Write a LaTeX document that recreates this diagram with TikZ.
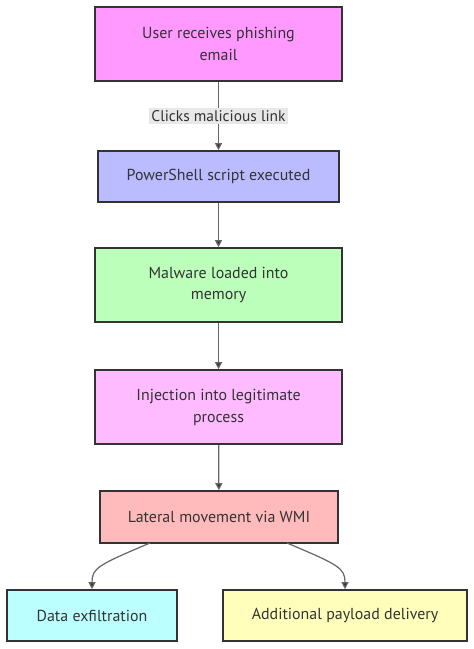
\documentclass[tikz,border=0pt]{standalone}
\usepackage{fontspec}
\setmainfont{PT Sans}
\usetikzlibrary{arrows.meta}
\definecolor{ink}{HTML}{333333}
\definecolor{wire}{HTML}{666666}
\definecolor{cPhish}{HTML}{FF99FF}
\definecolor{cShell}{HTML}{BBBBFF}
\definecolor{cMem}{HTML}{BBFFBB}
\definecolor{cInject}{HTML}{FFBBFF}
\definecolor{cLateral}{HTML}{FFBBBB}
\definecolor{cExfil}{HTML}{BBFFFF}
\definecolor{cPayload}{HTML}{FFFFBB}
\definecolor{labelbg}{HTML}{E8E8E8}
\tikzset{
  stage/.style={draw=ink, line width=1.6bp, text=ink, font=\fontsize{16}{22}\selectfont,
    align=center, inner sep=0pt, minimum height=#1},
  stage/.default=52bp,
  flow/.style={draw=wire, line width=1.2bp, -{Triangle[length=7bp,width=7bp,fill=ink]}},
  edgelabel/.style={fill=labelbg, text=ink, font=\fontsize{15.5}{18}\selectfont, inner sep=2bp}
}
\begin{document}
\begin{tikzpicture}[x=1bp,y=-1bp]
\useasboundingbox (0,0) rectangle (474,649);
\fill[white] (0,0) rectangle (474,649);
\node[stage=74bp, fill=cPhish, minimum width=247bp] (phish) at (218.5,44) {User receives phishing\\email};
\node[stage=51bp, fill=cShell, minimum width=241bp] (shell) at (218.5,176.5) {PowerShell script executed};
\node[stage=74bp, fill=cMem, minimum width=247bp] (mem) at (218.5,285) {Malware loaded into\\memory};
\node[stage=74bp, fill=cInject, minimum width=247bp] (inject) at (218.5,407) {Injection into legitimate\\process};
\node[stage=52bp, fill=cLateral, minimum width=238bp] (lateral) at (219,517) {Lateral movement via WMI};
\node[stage=51bp, fill=cExfil, minimum width=170bp] (exfil) at (92,615.5) {Data exfiltration};
\node[stage=51bp, fill=cPayload, minimum width=244bp] (payload) at (345,615.5) {Additional payload delivery};

\draw[flow] (phish) -- node[edgelabel] {Clicks malicious link} (shell);
\draw[flow] (shell) -- (mem);
\draw[flow] (mem) -- (inject);
\draw[flow] (inject) -- (lateral);
\coordinate (lsplit) at (150,543);
\coordinate (rsplit) at (287,543);
\draw[flow] (lsplit) .. controls (98,565) and (92,568) .. (exfil.north);
\draw[flow] (rsplit) .. controls (339,565) and (345,568) .. (payload.north);
\end{tikzpicture}
\end{document}
